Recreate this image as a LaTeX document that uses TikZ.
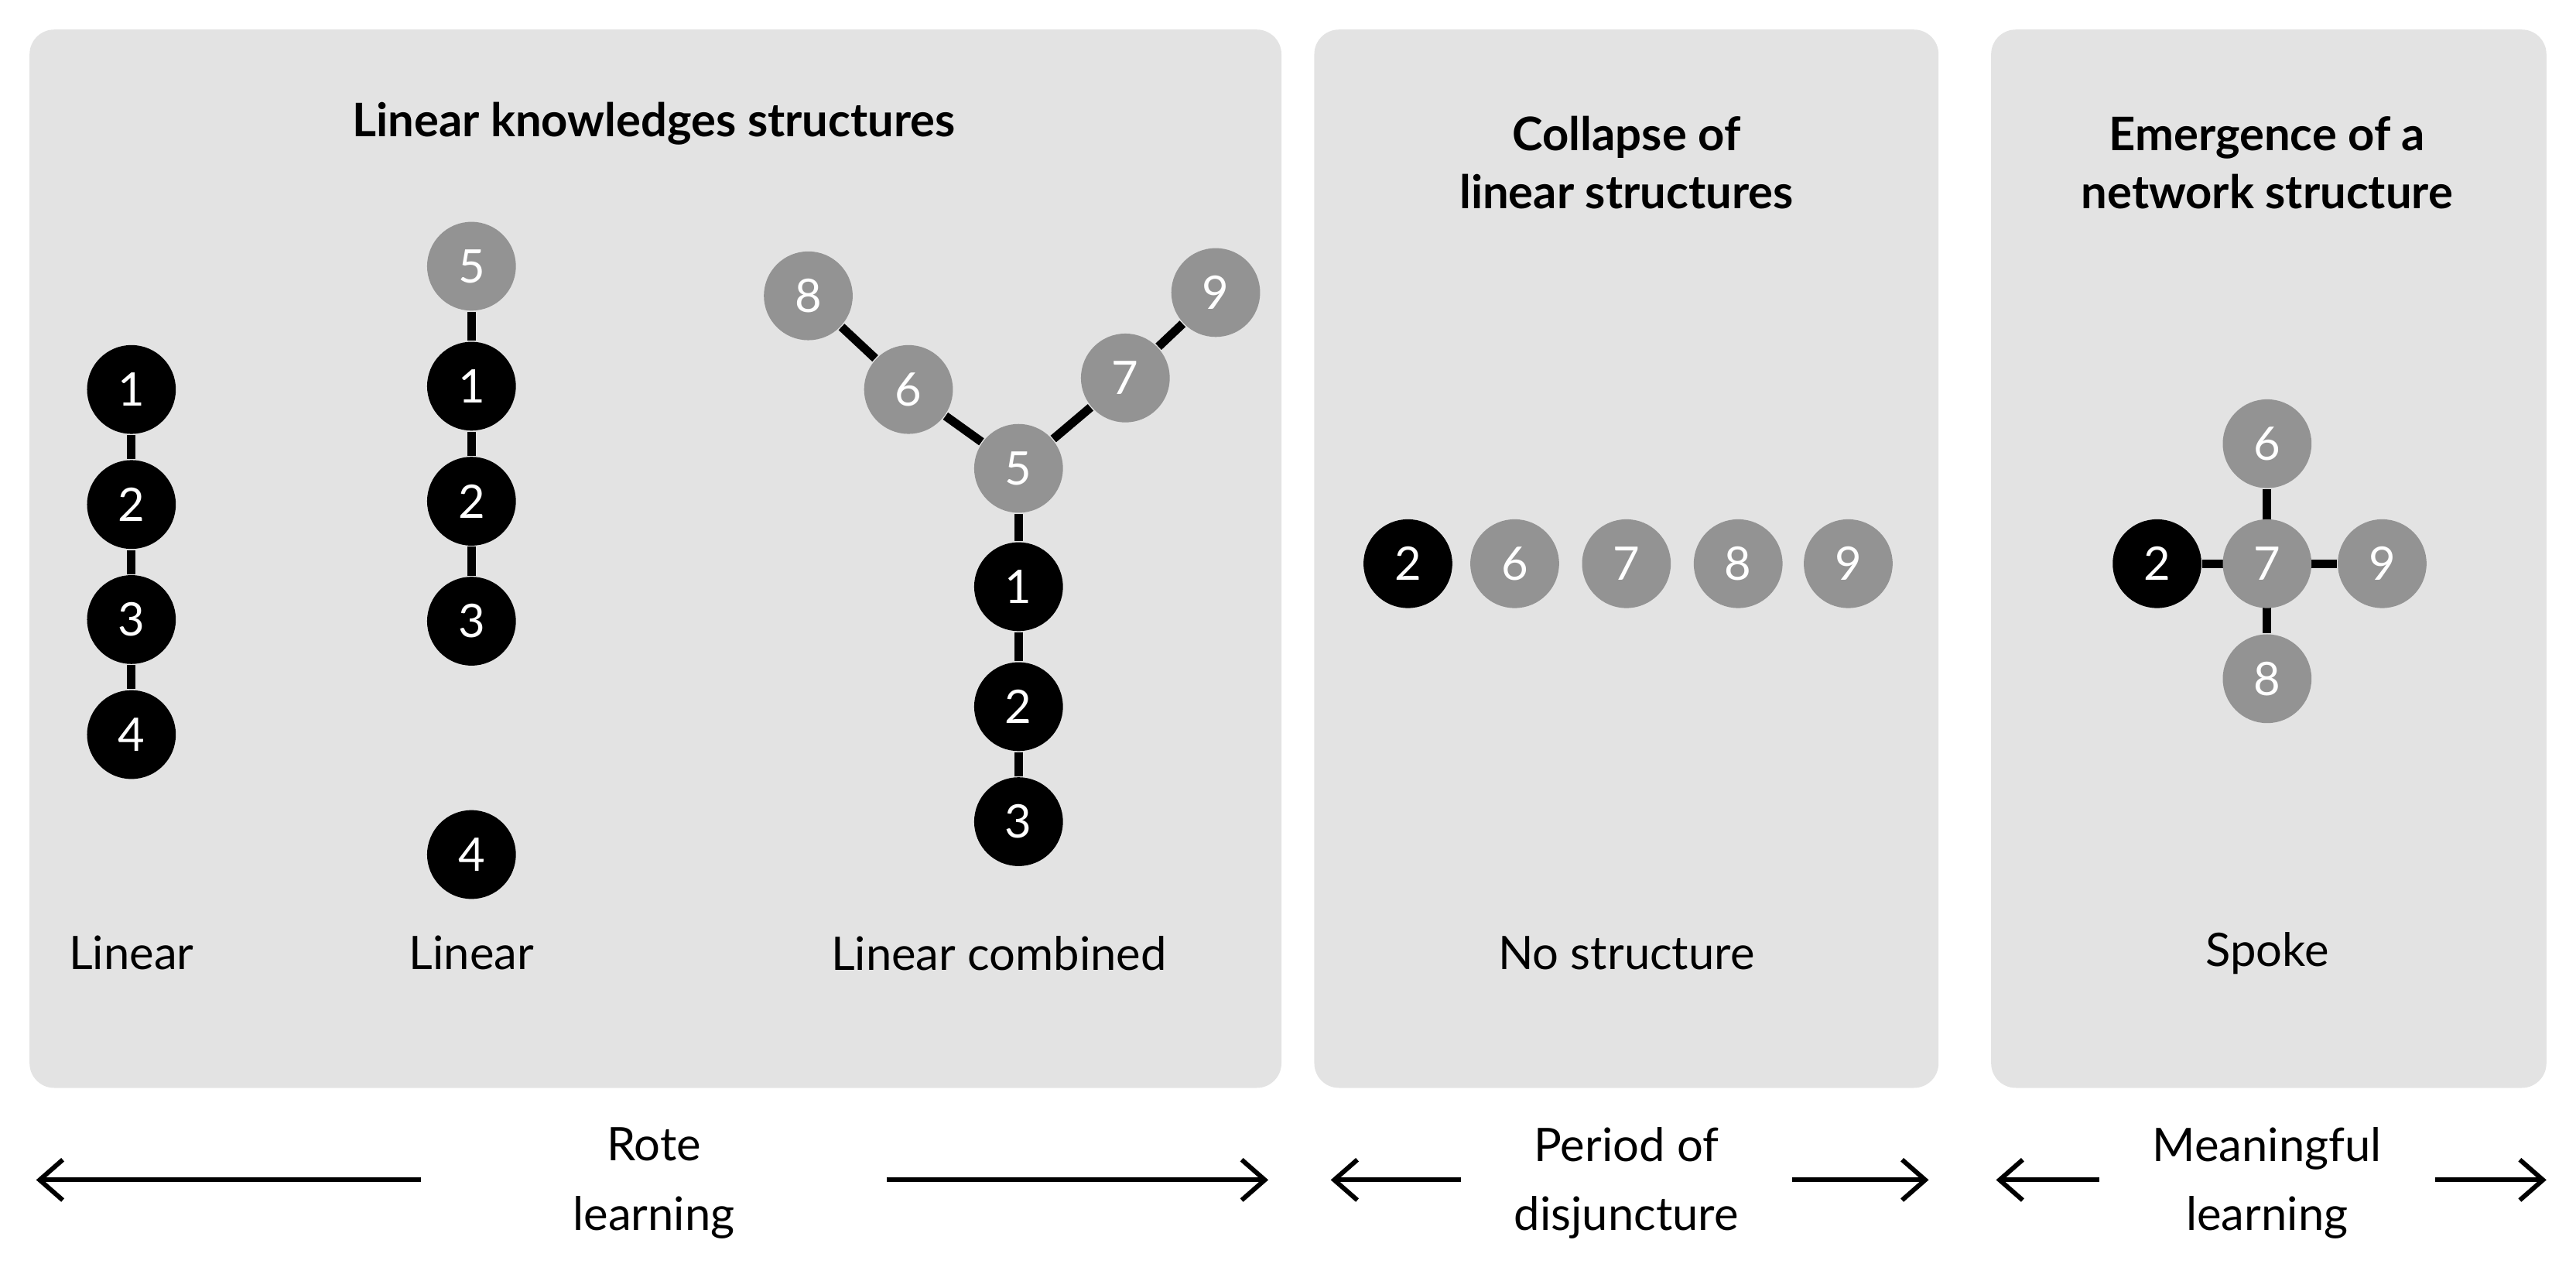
\documentclass[tikz,border=0pt]{standalone}
\usepackage{fontspec}
\setmainfont{Lato}
\usetikzlibrary{backgrounds,arrows.meta}

\tikzset{
  kn/.style={circle,fill=black,text=white,minimum size=0.54cm,inner sep=0pt,font=\fontsize{8}{9}\selectfont},
  gn/.style={kn,fill=gray!85},
  link/.style={line width=1.5pt},
  panel/.style={fill=gray!22,draw=none,rounded corners=0.15cm},
  lbl/.style={font=\fontsize{8}{10}\selectfont},
  ttl/.style={font=\bfseries\fontsize{8}{10}\selectfont,align=center},
  rng/.style={font=\fontsize{8}{12}\selectfont,align=center},
  span/.style={-{Straight Barb[length=4pt,width=7pt]},line width=0.8pt}
}

\begin{document}
\begin{tikzpicture}[x=0.01cm,y=-0.01cm]
    \useasboundingbox (0,0) rectangle (1568,769);

    % first panel
    \node[kn] (a1) at (80,237) {1};
    \node[kn] (a2) at (80,307) {2};
    \node[kn] (a3) at (80,377) {3};
    \node[kn] (a4) at (80,447) {4};

    \node[gn] (b5) at (287,162) {5};
    \node[kn] (b1) at (287,235) {1};
    \node[kn] (b2) at (287,305) {2};
    \node[kn] (b3) at (287,378) {3};
    \node[kn] (b4) at (287,520) {4};

    \node[gn] (c5) at (620,285) {5};
    \node[kn] (c1) at (620,357) {1};
    \node[kn] (c2) at (620,430) {2};
    \node[kn] (c3) at (620,500) {3};
    \node[gn] (c6) at (553,237) {6};
    \node[gn] (c8) at (492,180) {8};
    \node[gn] (c7) at (685,230) {7};
    \node[gn] (c9) at (740,178) {9};

    \node[ttl] (t1) at (398,75) {Linear knowledges structures};
    \node[lbl] (l1) at (80,580) {Linear};
    \node[lbl] (l2) at (287,580) {Linear};
    \node[lbl] (l3) at (608,580) {Linear combined};

    % second panel
    \node[kn] (d2) at (857,343) {2};
    \node[gn] (d6) at (922,343) {6};
    \node[gn] (d7) at (990,343) {7};
    \node[gn] (d8) at (1058,343) {8};
    \node[gn] (d9) at (1125,343) {9};
    \node[ttl] (t2) at (990,99) {Collapse of\\linear structures};
    \node[lbl] (l4) at (990,580) {No structure};

    % third panel
    \node[gn] (e7) at (1380,343) {7};
    \node[gn] (e6) at (1380,270) {6};
    \node[gn] (e8) at (1380,413) {8};
    \node[kn] (e2) at (1313,343) {2};
    \node[gn] (e9) at (1450,343) {9};
    \node[ttl] (t3) at (1380,99) {Emergence of a\\network structure};
    \node[lbl] (l5) at (1380,580) {Spoke};

    \begin{scope}[on background layer]
      \fill[panel] (18,18) rectangle (780,662);
      \fill[panel] (800,18) rectangle (1180,662);
      \fill[panel] (1212,18) rectangle (1550,662);
      \draw[link] (a1) -- (a2) -- (a3) -- (a4);
      \draw[link] (b5) -- (b1) -- (b2) -- (b3);
      \draw[link] (c8) -- (c6) -- (c5) -- (c7) -- (c9);
      \draw[link] (c5) -- (c1) -- (c2) -- (c3);
      \draw[link] (e6) -- (e8);
      \draw[link] (e2) -- (e9);
    \end{scope}

    % learning periods
    \node[rng] (p1) at (398,720) {Rote\\learning};
    \node[rng] (p2) at (990,720) {Period of\\disjuncture};
    \node[rng] (p3) at (1380,720) {Meaningful\\learning};
    \coordinate (s1) at (22,718);
    \coordinate (e1) at (772,718);
    \coordinate (s2) at (810,718);
    \coordinate (f2) at (1174,718);
    \coordinate (s3) at (1215,718);
    \coordinate (f3) at (1550,718);
    \draw[span] (p1.west) ++(-80,-2) -- (s1);
    \draw[span] (p1.east) ++(80,-2) -- (e1);
    \draw[span] (p2.west) ++(-20,-2) -- (s2);
    \draw[span] (p2.east) ++(20,-2) -- (f2);
    \draw[span] (p3.west) ++(-20,-2) -- (s3);
    \draw[span] (p3.east) ++(20,-2) -- (f3);
\end{tikzpicture}
\end{document}
